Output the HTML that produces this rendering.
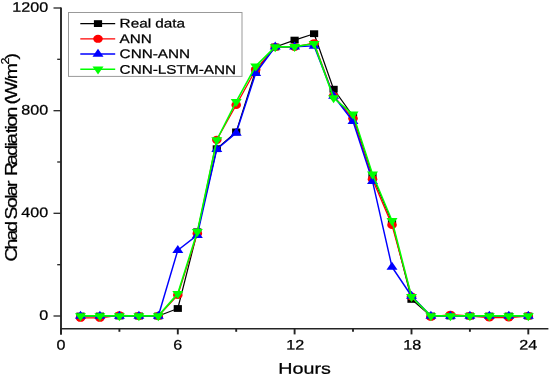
<!DOCTYPE html>
<html><head><meta charset="utf-8"><title>Chad Solar Radiation</title>
<style>
html,body{margin:0;padding:0;background:#fff;}
body{width:550px;height:376px;overflow:hidden;}
svg{display:block;}
text{font-family:"Liberation Sans",Arial,Helvetica,sans-serif;fill:#000;stroke:#000;stroke-width:0.25px;}
</style></head><body>
<svg width="550" height="376" viewBox="0 0 550 376">
<rect x="0" y="0" width="550" height="376" fill="#ffffff"/>

<g stroke="#242424" fill="none">
<line x1="61" y1="7.4" x2="61" y2="334.4" stroke-width="1.9"/>
<line x1="60" y1="328.8" x2="548.4" y2="328.8" stroke-width="1.4"/>
<line x1="53.5" y1="316.0" x2="61" y2="316.0" stroke-width="1.3"/>
<line x1="53.5" y1="213.3" x2="61" y2="213.3" stroke-width="1.3"/>
<line x1="53.5" y1="110.7" x2="61" y2="110.7" stroke-width="1.3"/>
<line x1="53.5" y1="8.0" x2="61" y2="8.0" stroke-width="1.3"/>
<line x1="57.2" y1="264.7" x2="61" y2="264.7" stroke-width="1.3"/>
<line x1="57.2" y1="162.0" x2="61" y2="162.0" stroke-width="1.3"/>
<line x1="57.2" y1="59.3" x2="61" y2="59.3" stroke-width="1.3"/>
<line x1="61.0" y1="328.8" x2="61.0" y2="334.4" stroke-width="1.9"/>
<line x1="177.8" y1="328.8" x2="177.8" y2="334.4" stroke-width="1.9"/>
<line x1="294.6" y1="328.8" x2="294.6" y2="334.4" stroke-width="1.9"/>
<line x1="411.5" y1="328.8" x2="411.5" y2="334.4" stroke-width="1.9"/>
<line x1="528.3" y1="328.8" x2="528.3" y2="334.4" stroke-width="1.9"/>
<line x1="119.4" y1="328.8" x2="119.4" y2="331.8" stroke-width="1.9"/>
<line x1="236.2" y1="328.8" x2="236.2" y2="331.8" stroke-width="1.9"/>
<line x1="353.0" y1="328.8" x2="353.0" y2="331.8" stroke-width="1.9"/>
<line x1="469.9" y1="328.8" x2="469.9" y2="331.8" stroke-width="1.9"/>
</g>
<text transform="translate(48.1,319.7) rotate(0.05) scale(1.175,1)" font-size="13.7" text-anchor="end" stroke-width="0.1">0</text>
<text transform="translate(48.1,217.0) rotate(0.05) scale(1.175,1)" font-size="13.7" text-anchor="end" stroke-width="0.1">400</text>
<text transform="translate(48.1,114.4) rotate(0.05) scale(1.175,1)" font-size="13.7" text-anchor="end" stroke-width="0.1">800</text>
<text transform="translate(48.1,11.7) rotate(0.05) scale(1.175,1)" font-size="13.7" text-anchor="end" stroke-width="0.1">1200</text>
<text transform="translate(61.0,349.6) rotate(0.05) scale(1.175,1)" font-size="13.7" text-anchor="middle" stroke-width="0.1">0</text>
<text transform="translate(177.8,349.6) rotate(0.05) scale(1.175,1)" font-size="13.7" text-anchor="middle" stroke-width="0.1">6</text>
<text transform="translate(295.3,349.6) rotate(0.05) scale(1.175,1)" font-size="13.7" text-anchor="middle" stroke-width="0.1">12</text>
<text transform="translate(412.2,349.6) rotate(0.05) scale(1.175,1)" font-size="13.7" text-anchor="middle" stroke-width="0.1">18</text>
<text transform="translate(528.3,349.6) rotate(0.05) scale(1.175,1)" font-size="13.7" text-anchor="middle" stroke-width="0.1">24</text>
<text transform="translate(304.6,373.8) rotate(0.05) scale(1.265,1)" font-size="15.6" text-anchor="middle" >Hours</text>
<text transform="translate(17.2,261.5) rotate(-90) scale(1.22,1)" font-size="16" letter-spacing="-1.65">Chad</text>
<text transform="translate(17.2,219.4) rotate(-90) scale(1.22,1)" font-size="16" letter-spacing="-1.35">Solar</text>
<text transform="translate(17.2,176.0) rotate(-90) scale(1.22,1)" font-size="16" letter-spacing="-1.35">R<tspan dx="-1.2">a</tspan>dia<tspan dx="1.2">t</tspan>ion</text>
<text transform="translate(17.2,104.5) rotate(-90) scale(1.22,1)" font-size="16" letter-spacing="-1.35">(W/m<tspan font-size="10" dy="-8.5">2</tspan><tspan dy="8.5">)</tspan></text>
<polyline points="80.5,316.0 99.9,316.0 119.4,316.0 138.9,316.0 158.3,316.0 177.8,308.5 197.3,231.8 216.8,148.7 236.2,131.9 255.7,70.5 275.2,47.0 294.6,40.1 314.1,33.7 333.6,89.2 353.0,116.0 372.5,176.0 392.0,222.0 411.5,299.4 430.9,316.0 450.4,316.0 469.9,316.0 489.3,316.0 508.8,316.0 528.3,316.0" fill="none" stroke="#000000" stroke-width="1.2" stroke-linejoin="round"/>
<g fill="#000000"><rect x="76.4" y="312.6" width="8.2" height="6.8"/><rect x="95.8" y="312.6" width="8.2" height="6.8"/><rect x="115.3" y="312.6" width="8.2" height="6.8"/><rect x="134.8" y="312.6" width="8.2" height="6.8"/><rect x="154.2" y="312.6" width="8.2" height="6.8"/><rect x="173.7" y="305.1" width="8.2" height="6.8"/><rect x="193.2" y="228.4" width="8.2" height="6.8"/><rect x="212.7" y="145.3" width="8.2" height="6.8"/><rect x="232.1" y="128.5" width="8.2" height="6.8"/><rect x="251.6" y="67.1" width="8.2" height="6.8"/><rect x="271.1" y="43.6" width="8.2" height="6.8"/><rect x="290.5" y="36.7" width="8.2" height="6.8"/><rect x="310.0" y="30.3" width="8.2" height="6.8"/><rect x="329.5" y="85.8" width="8.2" height="6.8"/><rect x="348.9" y="112.6" width="8.2" height="6.8"/><rect x="368.4" y="172.6" width="8.2" height="6.8"/><rect x="387.9" y="218.6" width="8.2" height="6.8"/><rect x="407.4" y="296.0" width="8.2" height="6.8"/><rect x="426.8" y="312.6" width="8.2" height="6.8"/><rect x="446.3" y="312.6" width="8.2" height="6.8"/><rect x="465.8" y="312.6" width="8.2" height="6.8"/><rect x="485.2" y="312.6" width="8.2" height="6.8"/><rect x="504.7" y="312.6" width="8.2" height="6.8"/><rect x="524.2" y="312.6" width="8.2" height="6.8"/></g>
<polyline points="80.5,317.8 99.9,317.8 119.4,315.3 138.9,316.0 158.3,316.0 177.8,295.0 197.3,233.5 216.8,139.8 236.2,105.0 255.7,69.8 275.2,47.0 294.6,47.0 314.1,43.2 333.6,96.0 353.0,118.6 372.5,179.2 392.0,225.0 411.5,296.4 430.9,316.8 450.4,314.7 469.9,316.0 489.3,317.5 508.8,317.5 528.3,316.0" fill="none" stroke="#ff0000" stroke-width="1.3" stroke-linejoin="round"/>
<g fill="#ff0000"><ellipse cx="80.5" cy="317.8" rx="4.8" ry="4"/><ellipse cx="99.9" cy="317.8" rx="4.8" ry="4"/><ellipse cx="119.4" cy="315.3" rx="4.8" ry="4"/><ellipse cx="138.9" cy="316.0" rx="4.8" ry="4"/><ellipse cx="158.3" cy="316.0" rx="4.8" ry="4"/><ellipse cx="177.8" cy="295.0" rx="4.8" ry="4"/><ellipse cx="197.3" cy="233.5" rx="4.8" ry="4"/><ellipse cx="216.8" cy="139.8" rx="4.8" ry="4"/><ellipse cx="236.2" cy="105.0" rx="4.8" ry="4"/><ellipse cx="255.7" cy="69.8" rx="4.8" ry="4"/><ellipse cx="275.2" cy="47.0" rx="4.8" ry="4"/><ellipse cx="294.6" cy="47.0" rx="4.8" ry="4"/><ellipse cx="314.1" cy="43.2" rx="4.8" ry="4"/><ellipse cx="333.6" cy="96.0" rx="4.8" ry="4"/><ellipse cx="353.0" cy="118.6" rx="4.8" ry="4"/><ellipse cx="372.5" cy="179.2" rx="4.8" ry="4"/><ellipse cx="392.0" cy="225.0" rx="4.8" ry="4"/><ellipse cx="411.5" cy="296.4" rx="4.8" ry="4"/><ellipse cx="430.9" cy="316.8" rx="4.8" ry="4"/><ellipse cx="450.4" cy="314.7" rx="4.8" ry="4"/><ellipse cx="469.9" cy="316.0" rx="4.8" ry="4"/><ellipse cx="489.3" cy="317.5" rx="4.8" ry="4"/><ellipse cx="508.8" cy="317.5" rx="4.8" ry="4"/><ellipse cx="528.3" cy="316.0" rx="4.8" ry="4"/></g>
<polyline points="80.5,316.0 99.9,316.0 119.4,316.0 138.9,316.0 158.3,316.0 177.8,250.2 197.3,235.1 216.8,149.2 236.2,132.9 255.7,73.3 275.2,46.8 294.6,46.8 314.1,45.9 333.6,96.0 353.0,121.2 372.5,181.1 392.0,267.0 411.5,296.0 430.9,316.0 450.4,316.0 469.9,316.0 489.3,316.0 508.8,316.0 528.3,316.0" fill="none" stroke="#0000ff" stroke-width="1.45" stroke-linejoin="round"/>
<g fill="#0000ff"><polygon points="75.0,318.8 86.0,318.8 80.5,310.8"/><polygon points="94.4,318.8 105.4,318.8 99.9,310.8"/><polygon points="113.9,318.8 124.9,318.8 119.4,310.8"/><polygon points="133.4,318.8 144.4,318.8 138.9,310.8"/><polygon points="152.8,318.8 163.8,318.8 158.3,310.8"/><polygon points="172.3,253.0 183.3,253.0 177.8,245.0"/><polygon points="191.8,237.9 202.8,237.9 197.3,229.9"/><polygon points="211.3,152.0 222.3,152.0 216.8,144.0"/><polygon points="230.7,135.7 241.7,135.7 236.2,127.7"/><polygon points="250.2,76.1 261.2,76.1 255.7,68.1"/><polygon points="269.7,49.6 280.7,49.6 275.2,41.6"/><polygon points="289.1,49.6 300.1,49.6 294.6,41.6"/><polygon points="308.6,48.7 319.6,48.7 314.1,40.7"/><polygon points="328.1,98.8 339.1,98.8 333.6,90.8"/><polygon points="347.5,124.0 358.5,124.0 353.0,116.0"/><polygon points="367.0,183.9 378.0,183.9 372.5,175.9"/><polygon points="386.5,269.8 397.5,269.8 392.0,261.8"/><polygon points="406.0,298.8 417.0,298.8 411.5,290.8"/><polygon points="425.4,318.8 436.4,318.8 430.9,310.8"/><polygon points="444.9,318.8 455.9,318.8 450.4,310.8"/><polygon points="464.4,318.8 475.4,318.8 469.9,310.8"/><polygon points="483.8,318.8 494.8,318.8 489.3,310.8"/><polygon points="503.3,318.8 514.3,318.8 508.8,310.8"/><polygon points="522.8,318.8 533.8,318.8 528.3,310.8"/></g>
<polyline points="80.5,315.9 99.9,315.9 119.4,315.9 138.9,315.9 158.3,315.9 177.8,293.6 197.3,231.8 216.8,140.0 236.2,101.6 255.7,66.1 275.2,46.9 294.6,46.6 314.1,43.8 333.6,98.0 353.0,114.3 372.5,174.2 392.0,220.7 411.5,296.7 430.9,315.9 450.4,315.9 469.9,315.9 489.3,315.9 508.8,315.9 528.3,315.9" fill="none" stroke="#00ff00" stroke-width="1.6" stroke-linejoin="round"/>
<g fill="#00ff00"><polygon points="75.0,313.2 86.0,313.2 80.5,321.2"/><polygon points="94.4,313.2 105.4,313.2 99.9,321.2"/><polygon points="113.9,313.2 124.9,313.2 119.4,321.2"/><polygon points="133.4,313.2 144.4,313.2 138.9,321.2"/><polygon points="152.8,313.2 163.8,313.2 158.3,321.2"/><polygon points="172.3,290.9 183.3,290.9 177.8,298.9"/><polygon points="191.8,229.1 202.8,229.1 197.3,237.1"/><polygon points="211.3,137.3 222.3,137.3 216.8,145.3"/><polygon points="230.7,98.9 241.7,98.9 236.2,106.9"/><polygon points="250.2,63.4 261.2,63.4 255.7,71.4"/><polygon points="269.7,44.2 280.7,44.2 275.2,52.2"/><polygon points="289.1,43.9 300.1,43.9 294.6,51.9"/><polygon points="308.6,41.1 319.6,41.1 314.1,49.1"/><polygon points="328.1,95.3 339.1,95.3 333.6,103.3"/><polygon points="347.5,111.6 358.5,111.6 353.0,119.6"/><polygon points="367.0,171.5 378.0,171.5 372.5,179.5"/><polygon points="386.5,218.0 397.5,218.0 392.0,226.0"/><polygon points="406.0,294.0 417.0,294.0 411.5,302.0"/><polygon points="425.4,313.2 436.4,313.2 430.9,321.2"/><polygon points="444.9,313.2 455.9,313.2 450.4,321.2"/><polygon points="464.4,313.2 475.4,313.2 469.9,321.2"/><polygon points="483.8,313.2 494.8,313.2 489.3,321.2"/><polygon points="503.3,313.2 514.3,313.2 508.8,321.2"/><polygon points="522.8,313.2 533.8,313.2 528.3,321.2"/></g>
<rect x="68.5" y="12.5" width="173.5" height="63.9" fill="#ffffff" stroke="#999999" stroke-width="1"/>
<line x1="80.3" y1="23.6" x2="115.2" y2="23.6" stroke="#000000" stroke-width="1.2"/>
<g fill="#000000"><rect x="93.9" y="20.2" width="8.2" height="6.8"/></g>
<text transform="translate(119.6,27.5) rotate(0.05) scale(1.225,1)" font-size="12.5" text-anchor="start" >Real data</text>
<line x1="80.3" y1="38.8" x2="115.2" y2="38.8" stroke="#ff0000" stroke-width="1.3"/>
<g fill="#ff0000"><ellipse cx="98.0" cy="38.8" rx="4.8" ry="4"/></g>
<text transform="translate(119.6,42.9) rotate(0.05) scale(1.225,1)" font-size="12.5" text-anchor="start" >ANN</text>
<line x1="80.3" y1="54.0" x2="115.2" y2="54.0" stroke="#0000ff" stroke-width="1.45"/>
<g fill="#0000ff"><polygon points="92.5,56.8 103.5,56.8 98.0,48.8"/></g>
<text transform="translate(119.6,57.9) rotate(0.05) scale(1.225,1)" font-size="12.5" text-anchor="start" >CNN-ANN</text>
<line x1="80.3" y1="69.3" x2="115.2" y2="69.3" stroke="#00ff00" stroke-width="1.6"/>
<g fill="#00ff00"><polygon points="92.5,66.6 103.5,66.6 98.0,74.6"/></g>
<text transform="translate(119.6,73.8) rotate(0.05) scale(1.225,1)" font-size="12.5" text-anchor="start" >CNN-LSTM-ANN</text>
</svg></body></html>
